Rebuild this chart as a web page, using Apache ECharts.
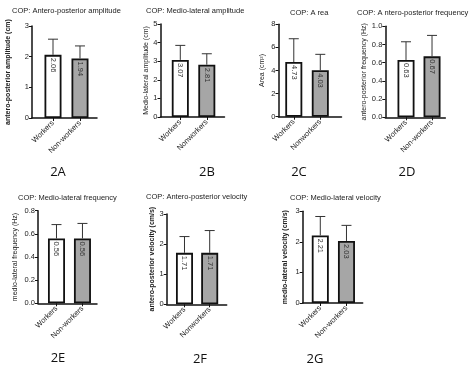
<!DOCTYPE html>
<html><head><meta charset="utf-8">
<script src="https://cdn.jsdelivr.net/npm/echarts@6/dist/echarts.min.js"></script>
<style>html,body{margin:0;padding:0;background:#fff}#c{width:474px;height:373px}</style>
</head><body><div id="c"></div>
<script>
// ---- data ----
const xLabelsA = ['Workers', 'Non-workers'];
const xLabelsB = ['Workers', 'Nonworkers'];
const xLabelsC = ['Workers', 'Nonworkers'];
const xLabelsD = ['Workers', 'Non-workers'];
const xLabelsE = ['Workers', 'Non-workers'];
const xLabelsF = ['Workers', 'Nonworkers'];
const xLabelsG = ['Workers', 'Non-workers'];

const meanA = [2.06, 1.94]; const sdA = [0.51, 0.41];
const meanB = [3.07, 2.81]; const sdB = [0.78, 0.59];
const meanC = [4.73, 4.03]; const sdC = [2.02, 1.37];
const meanD = [0.63, 0.67]; const sdD = [0.20, 0.23];
const meanE = [0.56, 0.56]; const sdE = [0.12, 0.13];
const meanF = [1.71, 1.71]; const sdF = [0.54, 0.74];
const meanG = [2.21, 2.03]; const sdG = [0.62, 0.51];

const labelsA = ['2.06', '1.94'];
const labelsB = ['3.07', '2.81'];
const labelsC = ['4.73', '4.03'];
const labelsD = ['0.63', '0.67'];
const labelsE = ['0.56', '0.56'];
const labelsF = ['1.71', '1.71'];
const labelsG = ['2.21', '2.03'];

const titles = ['COP: Antero-posterior amplitude', 'COP: Medio-lateral amplitude', 'COP: A rea',
  'COP: A ntero-posterior frequency', 'COP: Medio-lateral frequency', 'COP: Antero-posterior velocity',
  'COP: Medio-lateral velocity'];
const yNames = ['antero-posterior amplitude (cm)', 'Medio-lateral amplitude (cm)', 'Area (cm²)',
  'antero-posterior frequency (Hz)', 'medio-lateral frequency (Hz)', 'antero-posterior velocity (cm/s)',
  'medio-lateral velocity (cm/s)'];
const tags = ['2A', '2B', '2C', '2D', '2E', '2F', '2G'];
const yMax = [3, 5, 8, 1.0, 0.8, 3, 3];
const yStep = [1, 1, 2, 0.2, 0.2, 1, 1];
const yDecimals = [0, 0, 0, 1, 1, 0, 0];

// ---- layout ----
const panels = [
  {x: xLabelsA, m: meanA, s: sdA, l: labelsA, left: 32, top: 26, w: 65, h: 92, xmin: 0.222, xmax: 2.63, gap: 20, bold: true, tx: 12, ty: 7, gx: 58, gy: 173},
  {x: xLabelsB, m: meanB, s: sdB, l: labelsB, left: 160.5, top: 24, w: 64, h: 93, xmin: 0.253, xmax: 2.668, gap: 11, bold: false, tx: 146, ty: 7, gx: 207, gy: 173},
  {x: xLabelsC, m: meanC, s: sdC, l: labelsC, left: 278.5, top: 24.3, w: 63, h: 92.4, xmin: 0.423, xmax: 2.80, gap: 13, bold: false, tx: 290, ty: 9, gx: 299, gy: 173},
  {x: xLabelsD, m: meanD, s: sdD, l: labelsD, left: 385.3, top: 26.3, w: 60, h: 91, xmin: 0.204, xmax: 2.51, gap: 14, bold: false, tx: 357, ty: 9, gx: 407, gy: 173},
  {x: xLabelsE, m: meanE, s: sdE, l: labelsE, left: 38, top: 210.7, w: 59, h: 92.6, xmin: 0.288, xmax: 2.56, gap: 19, bold: false, tx: 18, ty: 194, gx: 58, gy: 359},
  {x: xLabelsF, m: meanF, s: sdF, l: labelsF, left: 166.7, top: 214, w: 60, h: 90.3, xmin: 0.294, xmax: 2.675, gap: 10, bold: true, tx: 146, ty: 193, gx: 200, gy: 360},
  {x: xLabelsG, m: meanG, s: sdG, l: labelsG, left: 302.7, top: 211.3, w: 60, h: 91.7, xmin: 0.328, xmax: 2.62, gap: 14, bold: true, tx: 290, ty: 194, gx: 315, gy: 360}
];

const FONT = 'Liberation Sans, Arial, sans-serif';
const option = {animation: false, backgroundColor: '#fff', title: [], grid: [], xAxis: [], yAxis: [], series: []};

panels.forEach((p, i) => {
  option.title.push({text: titles[i], left: p.tx, top: p.ty, padding: 0,
    textStyle: {fontFamily: FONT, fontSize: 7.5, fontWeight: 'normal', color: '#222'}});
  option.title.push({text: tags[i], left: p.gx, top: p.gy - 7, padding: 0, textAlign: 'center',
    textStyle: {fontFamily: 'Open Sans, sans-serif', fontSize: 13, fontWeight: 500, color: '#111'}});
  option.grid.push({left: p.left, top: p.top, width: p.w, height: p.h, containLabel: false});
  option.xAxis.push({
    type: 'value', gridIndex: i, min: p.xmin, max: p.xmax,
    axisLine: {show: true, onZero: false, lineStyle: {color: '#111', width: 1.5}},
    axisTick: {show: true, customValues: [1, 2], length: 3, lineStyle: {color: '#111', width: 1}},
    axisLabel: {show: true, customValues: [1, 2], rotate: 45, margin: 4, fontSize: 7.5, color: '#222', fontFamily: FONT,
      formatter: v => p.x[Math.round(v) - 1] || ''},
    splitLine: {show: false}
  });
  option.yAxis.push({
    type: 'value', gridIndex: i, min: 0, max: yMax[i], interval: yStep[i],
    name: yNames[i], nameLocation: 'middle', nameGap: p.gap,
    nameTextStyle: {fontFamily: FONT, fontSize: 7, color: '#222', fontWeight: p.bold ? 'bold' : 'normal'},
    axisLine: {show: true, lineStyle: {color: '#111', width: 1.5}},
    axisTick: {show: true, length: 3, lineStyle: {color: '#111', width: 1}},
    axisLabel: {fontSize: 7.5, margin: 3, color: '#222', fontFamily: FONT, formatter: v => v.toFixed(yDecimals[i])},
    splitLine: {show: false}
  });
  option.series.push({
    type: 'bar', xAxisIndex: i, yAxisIndex: i, barWidth: 17,
    data: p.m.map((v, k) => ({value: [k + 1, v], itemStyle: {color: k === 0 ? '#ffffff' : '#a6a6a6', borderColor: '#111', borderWidth: 1.8}})),
    label: {show: true, position: 'insideTop', distance: 3, rotate: -90, align: 'left', verticalAlign: 'middle',
      fontSize: 7.5, color: '#333', fontFamily: FONT, formatter: q => p.l[q.dataIndex]}
  });
  option.series.push({
    type: 'custom', xAxisIndex: i, yAxisIndex: i, z: 3,
    encode: {x: 0, y: 1},
    data: p.m.map((v, k) => [k + 1, v, p.s[k]]),
    renderItem: (params, api) => {
      const x = api.value(0), m = api.value(1), s = api.value(2);
      const a = api.coord([x, m]), b = api.coord([x, m + s]);
      return {type: 'group', children: [
        {type: 'line', shape: {x1: a[0], y1: a[1], x2: b[0], y2: b[1]}, style: {stroke: '#333', lineWidth: 1}},
        {type: 'line', shape: {x1: b[0] - 5, y1: b[1], x2: b[0] + 5, y2: b[1]}, style: {stroke: '#333', lineWidth: 1}}
      ]};
    }
  });
});

const chart = echarts.init(document.getElementById('c'), null, {renderer: 'canvas'});
chart.setOption(option);
</script>
</body></html>
